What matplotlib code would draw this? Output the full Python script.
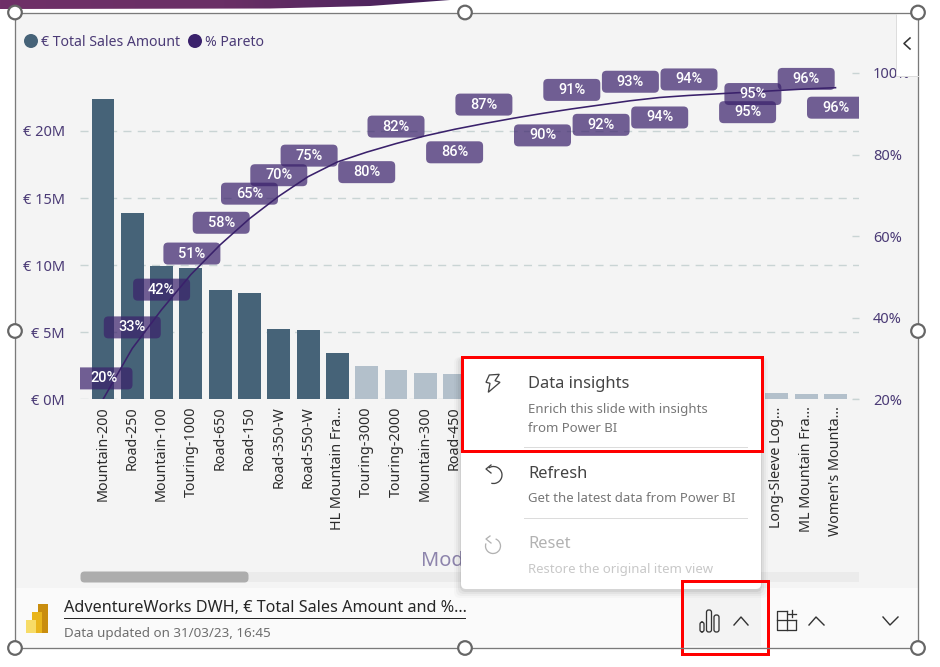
import numpy as np
import matplotlib
matplotlib.use("Agg")
import matplotlib.pyplot as plt
from matplotlib.patches import Rectangle, FancyBboxPatch, Circle, Arc, Polygon, BoxStyle

# chart data (bars 13-22 sit behind the popup, so estimated)
models = ['Mountain-200', 'Road-250', 'Mountain-100', 'Touring-1000', 'Road-650', 'Road-150',
          'Road-350-W', 'Road-550-W', 'HL Mountain Fra...', 'Touring-3000', 'Touring-2000',
          'Mountain-300', 'Road-450', '', '', '', '', '', '', '', '', '', '', 'Long-Sleeve Log...',
          'ML Mountain Fra...', "Women's Mounta..."]
sales = [22.35, 13.89, 9.96, 9.78, 8.15, 7.95, 5.27, 5.2, 3.46, 2.49, 2.18, 1.96, 1.92,
         1.8, 1.6, 1.4, 1.2, 1.05, 0.95, 0.85, 0.75, 0.65, 0.55, 0.45, 0.42, 0.4]
pareto = [20, 32.5, 42, 50.6, 57.9, 64.3, 69.8, 74.6, 78.2, 80.6, 82.7, 84.6, 86.2, 87.6, 88.9, 90.1,
          91.2, 92.2, 93.2, 94.0, 94.5, 94.9, 95.3, 95.7, 96.1, 96.4]
label_idx = [0, 1, 2, 3, 4, 5, 6, 7, 9, 10, 12, 13, 15, 16, 17, 18, 19, 20, 22, 23, 24, 25]
label_txt = ['20%', '33%', '42%', '51%', '58%', '65%', '70%', '75%', '80%', '82%', '86%', '87%',
             '90%', '91%', '92%', '93%', '94%', '94%', '95%', '95%', '96%', '96%']
# where Power BI pushed each label, pixels from its point on the line
label_dx = [1, 0, 0, 1, 1, 0, 0, 1, 0, 0, 0, 0, 0, 0, 0, 0, 0, 0, 0, -24, 0, 0]
label_dy = [21, 21, 20, 21, 22, 25, 21, 21, -20, 17, -23, 19, -22, 19, -20, 19, -20, 16, -20, -3.5, 10, -20]
left_ticks = [0, 5, 10, 15, 20]
left_labels = ['€ 0M', '€ 5M', '€ 10M', '€ 15M', '€ 20M']
right_ticks = [20, 40, 60, 80, 100]
right_labels = ['20%', '40%', '60%', '80%', '100%']
n_dark = 9

W, H = 940, 667
BLUE = '#466378'
LIGHT = '#b3c0cb'
PURPLE = '#3a216b'
AXTXT = '#4b3b76'
GRID = '#c9d4d4'
plt.rcParams['font.family'] = ['Noto Sans', 'DejaVu Sans']


def pt(px):
    return px * 0.72


class WideRound(BoxStyle.Round):
    # Round box of a fixed 57 x 22 px whatever the text width
    def __call__(self, x0, y0, width, height, mutation_size):
        ex = (57 - width) / 2
        ey = (22 - height) / 2
        return super().__call__(x0 - ex, y0 - ey, width + 2 * ex, height + 2 * ey, mutation_size)


fig = plt.figure(figsize=(W / 100, H / 100), dpi=100, facecolor='white')

# layer behind the chart: card and footer
back = fig.add_axes([0, 0, 1, 1], zorder=0)
back.axis('off')
back.add_patch(Rectangle((15, 13), 903, 575, fc='#f4f4f4', ec='none'))
back.add_patch(Rectangle((15, 588), 903, 60, fc='#fafafa', ec='none'))
back.add_patch(Rectangle((684, 589), 77, 57, fc='#f3f3f3', ec='none'))
back.add_patch(Rectangle((81, 572), 778, 10, fc='#ebebeb', ec='none'))
back.add_patch(FancyBboxPatch((84, 575), 161, 4, boxstyle='round,pad=0,rounding_size=0', fc='#adadad',
                              ec='#adadad', lw=pt(7), joinstyle='round'))

# purple band along the top edge
grad = np.linspace(0, 1, 256).reshape(1, -1)
cmap = matplotlib.colors.LinearSegmentedColormap.from_list('band', ['#6f3068', '#6a2f66', '#42205a'])
band = back.imshow(grad, extent=(0, 450, 9, 0), cmap=cmap, aspect='auto', zorder=1)
back.set_xlim(0, W)
back.set_ylim(H, 0)
band_poly = Polygon([(0, 0), (450, 0), (370, 6), (270, 8.5), (0, 9)], closed=True, transform=back.transData,
                    fc='none', ec='none')
back.add_patch(band_poly)
band.set_clip_path(band_poly)

# chart itself
x0, x1, y0, y1 = 80, 859, 399.4, 55
ax = fig.add_axes([x0 / W, 1 - y0 / H, (x1 - x0) / W, (y0 - y1) / H], zorder=1)
ax.patch.set_visible(False)
for s in ax.spines.values():
    s.set_visible(False)
x = np.arange(len(models))
step = 29.3
ax.bar(x, sales, width=0.78, color=[BLUE] * n_dark + [LIGHT] * (len(models) - n_dark))
ax.set_xlim((x0 - 103) / step, (x1 - 103) / step)
ax.set_ylim(0, (y0 - y1) / 13.42)
ax.set_axisbelow(True)
ax.yaxis.grid(True, color=GRID, lw=1, linestyle=(0, (5.8, 4.5)))
ax.set_yticks(left_ticks)
ax.set_yticklabels(left_labels, color=AXTXT, fontsize=pt(14.6))
ax.tick_params(axis='y', length=0, pad=pt(15))
ax.set_xticks(x)
ax.set_xticklabels(models, rotation=90, ha='center', va='top', color='#2b2b2b', fontsize=pt(14.3))
ax.tick_params(axis='x', length=0, pad=pt(7))
ax.set_xlabel('Model', color='#8d84ac', fontsize=pt(20), va='center')
ax.xaxis.set_label_coords((451 - x0) / (x1 - x0), (y0 - 561) / (y0 - y1))

ax2 = ax.twinx()
ax2.patch.set_visible(False)
for s in ax2.spines.values():
    s.set_visible(False)
ax2.plot(x, pareto, color=PURPLE, lw=pt(1.6))
ax2.set_ylim(20, 20 + (y0 - y1) / 4.08)
ax2.set_yticks(right_ticks)
ax2.set_yticklabels(right_labels, color=AXTXT, fontsize=pt(14.6))
ax2.tick_params(axis='y', direction='in', length=pt(7), width=1, color=GRID, pad=pt(14))

for i, t, dx, dy in zip(label_idx, label_txt, label_dx, label_dy):
    lab = ax2.annotate(t, xy=(i, pareto[i]), xytext=(dx, dy), textcoords='offset pixels', ha='center', va='center',
                       color='white', fontsize=pt(14.5), fontweight='medium', family='Roboto', clip_on=True,
                       annotation_clip=False,
                       bbox=dict(boxstyle='round', fc=(0x3a / 255, 0x21 / 255, 0x6b / 255, 0.71), ec='none'))
    lab.get_bbox_patch().set_boxstyle(WideRound(pad=0, rounding_size=0.32))

# layer above the chart: legend, frame, footer, popup, icons
ui = fig.add_axes([0, 0, 1, 1], zorder=3)
ui.set_xlim(0, W)
ui.set_ylim(H, 0)
ui.axis('off')

ui.add_patch(Circle((31, 41), 7, fc=BLUE, ec='none'))
ui.text(41, 43, '€ Total Sales Amount', color=AXTXT, fontsize=pt(14.1), va='center')
ui.add_patch(Circle((195, 41), 7, fc=PURPLE, ec='none'))
ui.text(205, 43, '% Pareto', color=AXTXT, fontsize=pt(14.1), va='center')

# collapse tab on the right
ui.add_patch(Rectangle((896, 14), 22, 62, fc='white', ec='none'))
ui.plot([896, 896, 918], [14, 76, 76], color='#dddddd', lw=pt(1))
ui.plot([910, 904, 910], [38, 43.5, 49], color='#333333', lw=pt(1.6))

# power bi logo
ui.add_patch(Rectangle((38, 604), 10, 29, fc='#c98d0e', ec='none'))
ui.add_patch(Rectangle((32, 612), 10, 21, fc='#e9b51c', ec='none'))
ui.add_patch(Rectangle((26, 620), 10, 13, fc='#f7dc68', ec='none'))

ui.text(64, 608.5, 'AdventureWorks DWH, € Total Sales Amount and %...', color='#262626', fontsize=pt(16.2),
        va='center')
ui.plot([64, 465], [617.5, 617.5], color='#262626', lw=pt(1))
ui.text(64, 634, 'Data updated on 31/03/23, 16:45', color='#6e6e6e', fontsize=pt(13.4), va='center')

# popup with soft shadow
for grow, alpha in zip([7, 5, 3, 1], [0.02, 0.03, 0.04, 0.06]):
    ui.add_patch(FancyBboxPatch((461 - grow, 357), 300 + 2 * grow, 232 + grow + 2,
                                boxstyle='round,pad=0,rounding_size=6', fc='black', alpha=alpha, ec='none'))
ui.add_patch(FancyBboxPatch((461, 357), 300, 232, boxstyle='round,pad=0,rounding_size=5', fc='white', ec='none'))
ui.text(528, 383.5, 'Data insights', color='#444444', fontsize=pt(16.5), va='center')
ui.text(528, 409, 'Enrich this slide with insights', color='#777777', fontsize=pt(13.2), va='center')
ui.text(528, 428, 'from Power BI', color='#777777', fontsize=pt(13.2), va='center')
ui.plot([524, 747], [447, 447], color='#dcdcdc', lw=pt(1))
ui.text(528, 473.5, 'Refresh', color='#444444', fontsize=pt(16.5), va='center')
ui.text(528, 499, 'Get the latest data from Power BI', color='#777777', fontsize=pt(13.2), va='center')
ui.plot([524, 747], [518, 518], color='#dcdcdc', lw=pt(1))
ui.text(528, 544.5, 'Reset', color='#b2b2b2', fontsize=pt(16.5), va='center')
ui.text(528, 570, 'Restore the original item view', color='#c8c8c8', fontsize=pt(13.2), va='center')

# popup icons
ui.add_patch(Polygon([(489.3, 375), (499.3, 374.3), (495, 380.7), (500, 382.3), (488.3, 392.3), (490, 383.3),
                      (486, 382.3)], closed=True, fc='white', ec='#444444', lw=pt(1.3)))
ui.add_patch(Arc((493.5, 475), 17, 17, theta1=-125, theta2=105, color='#444444', lw=pt(1.3)))
ui.plot([491, 486, 491], [465, 469, 473], color='#444444', lw=pt(1.3))
ui.add_patch(Arc((493, 546), 15, 15, theta1=-70, theta2=200, color='#b2b2b2', lw=pt(1.3)))
ui.plot([490, 486, 491], [536, 539, 543], color='#b2b2b2', lw=pt(1.3))

# ribbon icons
for bx, bw, by in [(700, 4, 622), (706.5, 5, 610), (714, 5, 615)]:
    ui.add_patch(FancyBboxPatch((bx, by), bw, 632 - by, boxstyle='round,pad=0,rounding_size=2.2', fc='none',
                                ec='#333333', lw=pt(1.3)))
ui.plot([734, 741, 748], [625, 617, 625], color='#333333', lw=pt(1.4))
ui.plot([787, 777, 777, 796, 796], [611, 611, 630, 630, 620], color='#333333', lw=pt(1.3))
ui.plot([777, 796], [620, 620], color='#333333', lw=pt(1.3))
ui.plot([787, 787], [611, 630], color='#333333', lw=pt(1.3))
ui.plot([792, 792], [610, 617], color='#333333', lw=pt(1.3))
ui.plot([788, 796], [613.5, 613.5], color='#333333', lw=pt(1.3))
ui.plot([809, 816, 824], [625, 617, 625], color='#333333', lw=pt(1.4))
ui.plot([883, 890, 898], [617, 625, 617], color='#333333', lw=pt(1.4))

# red highlight boxes
ui.add_patch(Rectangle((461.5, 357), 300.5, 94, fc='none', ec='#ff0000', lw=pt(3)))
ui.add_patch(Rectangle((681.5, 581), 86, 73, fc='none', ec='#ff0000', lw=pt(3)))

# selection frame and handles
ui.add_patch(Rectangle((15, 12.5), 903, 635.5, fc='none', ec='#7a7a7a', lw=pt(1.3)))
for hx, hy in [(15, 12.5), (465, 12.5), (918, 12.5), (15, 331), (918, 331), (15, 648), (465, 648), (918, 648)]:
    ui.add_patch(Circle((hx, hy), 6.8, fc='white', ec='#666666', lw=pt(2.2), zorder=5))

fig.savefig('out.png', dpi=100)
